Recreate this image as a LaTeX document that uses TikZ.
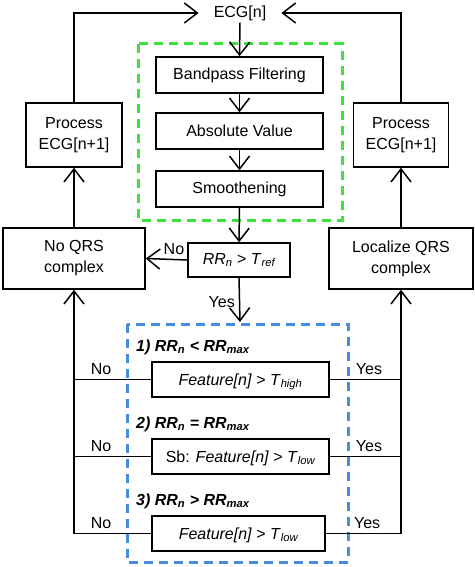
\documentclass[tikz,border=0pt]{standalone}
\usepackage{fontspec}
\setmainfont{Liberation Sans}
\usetikzlibrary{arrows.meta}
\definecolor{dgreen}{HTML}{3EE23E}
\definecolor{dblue}{HTML}{4A8BE2}
\tikzset{
  box/.style={draw, line width=1.5pt, minimum width=#1, inner sep=0pt, align=center, font=\fontsize{16}{21}\selectfont},
  box/.default=100pt,
  lbl/.style={inner sep=0pt, font=\fontsize{16}{19}\selectfont},
  cond/.style={inner sep=0pt, anchor=west, font=\fontsize{16}{19}\selectfont\bfseries\itshape},
  conn/.style={line width=1.5pt},
  arr/.style={conn, -{Straight Barb[length=13pt,width=20pt,line width=1.5pt]}},
  gdash/.style={draw=dgreen, line width=3pt, dash pattern=on 9pt off 6pt},
  bdash/.style={draw=dblue, line width=3pt, dash pattern=on 9pt off 6pt}
}
\newcommand{\sbs}[1]{\textsubscript{\itshape #1}}
\begin{document}
\begin{tikzpicture}[x=1pt,y=-1pt]
\useasboundingbox (0,0) rectangle (474,567);
% dashed groups
\draw[gdash] (138,44) rectangle (342,220);
\draw[bdash] (127,324) rectangle (348,562);
% nodes
\node[lbl, inner xsep=15pt, inner ysep=2pt] (ecg) at (240,13) {ECG[n]};
\node[box=167pt, minimum height=36pt] (bp) at (239.5,75) {Bandpass Filtering};
\node[box=167pt, minimum height=36pt] (av) at (239.5,131) {Absolute Value};
\node[box=167pt, minimum height=36pt] (sm) at (239.5,189) {Smoothening};
\node[box=102pt, minimum height=34pt] (rr) at (239,260) {\textit{RR}\sbs{n} > \textit{T}\sbs{ref}};
\node[box=142pt, minimum height=61pt] (noqrs) at (74,258.5) {No QRS\\complex};
\node[box=144pt, minimum height=61pt] (loc) at (401,258.5) {Localize QRS\\complex};
\node[box=96pt, minimum height=64pt] (procL) at (74,135) {Process\\ECG[n+1]};
\node[box=95pt, minimum height=64pt] (procR) at (401,135) {Process\\ECG[n+1]};
\node[box=177pt, minimum height=35pt, text depth=-4pt] (f1) at (240.5,379.5) {\textit{Feature[n]} > \textit{T}\sbs{high}};
\node[box=177pt, minimum height=35pt, text depth=-4pt] (f2) at (240.5,456.5) {Sb: \textit{Feature[n]} > \textit{T}\sbs{low}};
\node[box=173pt, minimum height=35pt, text depth=-4pt] (f3) at (238.5,533.5) {\textit{Feature[n]} > \textit{T}\sbs{low}};
\node[cond] (c1) at (136,347) {1) RR\textsubscript{n} < RR\textsubscript{max}};
\node[cond] (c2) at (136,424) {2) RR\textsubscript{n} = RR\textsubscript{max}};
\node[cond] (c3) at (136,501) {3) RR\textsubscript{n} > RR\textsubscript{max}};
\coordinate (yesend) at (240,322);
\coordinate (lc) at (f3.west -| noqrs.south);
\coordinate (rc) at (f3.east -| loc.south);
% central chain
\draw[arr] (ecg.south) -- (bp.north);
\draw[arr] (bp) -- (av);
\draw[arr] (av) -- (sm);
\draw[arr] (sm) -- (rr);
\draw[arr] (rr.west) -- node[lbl, above=4pt, pos=0.32] {No} (noqrs.east);
\draw[arr] (rr.south) -- node[lbl, left=4pt, pos=0.55] {Yes} (yesend);
% side columns
\draw[arr] (noqrs.north) -- (procL.south);
\draw[arr] (loc.north) -- (procR.south);
\draw[arr] (procL.north) |- (ecg.west);
\draw[arr] (procR.north) |- (ecg.east);
% decision branches
\draw[conn] (f3.west) -- node[lbl, pos=0.65, above=4pt] {No} (lc);
\draw[arr] (lc) -- (noqrs.south);
\draw[conn] (f2.west) -- node[lbl, pos=0.65, above=4pt] {No} (f2.west -| noqrs.south);
\draw[conn] (f1.west) -- node[lbl, pos=0.65, above=4pt] {No} (f1.west -| noqrs.south);
\draw[conn] (f3.east) -- node[lbl, pos=0.55, above=4pt] {Yes} (rc);
\draw[arr] (rc) -- (loc.south);
\draw[conn] (f2.east) -- node[lbl, pos=0.55, above=4pt] {Yes} (f2.east -| loc.south);
\draw[conn] (f1.east) -- node[lbl, pos=0.55, above=4pt] {Yes} (f1.east -| loc.south);
\end{tikzpicture}
\end{document}
